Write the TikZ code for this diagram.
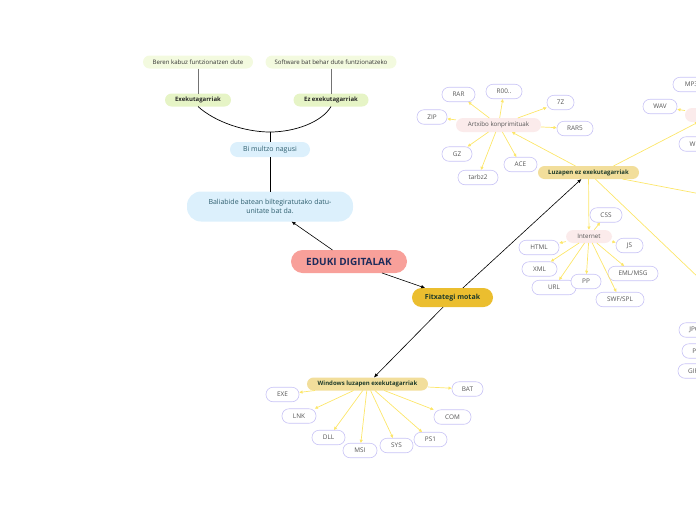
\documentclass[tikz,border=0pt]{standalone}
\usepackage{fontspec}
\setmainfont{Open Sans}
\usetikzlibrary{arrows.meta}
\definecolor{leafbd}{HTML}{C9C4F6}
\definecolor{leaftxt}{HTML}{555555}
\definecolor{yline}{HTML}{FCE66A}
\definecolor{pinkfill}{HTML}{FBEBEB}
\definecolor{goldfill}{HTML}{F2DE9B}
\definecolor{fitxfill}{HTML}{EBBE2F}
\definecolor{edukifill}{HTML}{F8A09A}
\definecolor{bluefill}{HTML}{DCF0FC}
\definecolor{lgreenfill}{HTML}{F3FADF}
\definecolor{mgreenfill}{HTML}{E6F4C6}
\definecolor{darkgreen}{HTML}{1F3B2A}
\definecolor{navy}{HTML}{1D2B5B}
\definecolor{tealtxt}{HTML}{2F5F6F}
\begin{document}
\begin{tikzpicture}[x=1pt,y=-1pt,
  box/.style={inner sep=0pt, outer sep=0pt},
  leaf/.style={box, draw=leafbd, line width=0.6pt, fill=white, rounded corners=7pt,
    minimum height=14.5pt, font=\fontsize{6.4}{7}\selectfont, text=leaftxt},
  pinkbox/.style={box, fill=pinkfill, rounded corners=7pt, minimum height=14pt,
    font=\fontsize{6.2}{7}\selectfont, text=leaftxt},
  goldbox/.style={box, fill=goldfill, rounded corners=6.5pt, minimum height=13pt,
    font=\fontsize{6}{7}\selectfont\bfseries, text=darkgreen},
  lgreen/.style={box, fill=lgreenfill, rounded corners=6.5pt, minimum height=13pt,
    font=\fontsize{6.1}{7}\selectfont, text=black!80},
  mgreen/.style={box, fill=mgreenfill, rounded corners=6.5pt, minimum height=13pt,
    font=\fontsize{6}{7}\selectfont\bfseries, text=black!85},
  yarr/.style={draw=yline, line width=0.7pt, -{Latex[length=3.5pt,width=3.5pt]}},
  barr/.style={draw=black, line width=0.6pt, -{Latex[length=4pt,width=3.5pt]}},
  gline/.style={draw=black!55, line width=0.6pt},
  kline/.style={draw=black, line width=0.7pt}]
\useasboundingbox (0,0) rectangle (696,520);

% top-left group
\node[lgreen, minimum width=110pt] (beren) at (198,62) {Beren kabuz funtzionatzen dute};
\node[lgreen, minimum width=131pt] (soft) at (331,62) {Software bat behar dute funtzionatzeko};
\node[mgreen, minimum width=66pt] (exe) at (198,100) {Exekutagarriak};
\node[mgreen, minimum width=75pt] (ezexe) at (331,100) {Ez exekutagarriak};
\coordinate (j) at (270,132);
\node[box, fill=bluefill, rounded corners=7.5pt, minimum width=80pt, minimum height=15pt,
  font=\fontsize{7}{8}\selectfont, text=tealtxt] (bi) at (270,149.5) {Bi multzo nagusi};
\node[box, fill=bluefill, rounded corners=14pt, minimum width=166pt, minimum height=30pt,
  align=center, font=\fontsize{7}{9.5}\selectfont, text=tealtxt] (bal) at (270,206.5)
  {Baliabide batean biltegiratutako datu-\\unitate bat da.};

\draw[gline] (beren) -- (exe);
\draw[gline] (soft) -- (ezexe);
\draw[kline] (exe.south) .. controls (215,122) and (245,132) .. (j);
\draw[kline] (ezexe.south) .. controls (322,122) and (295,132) .. (j);
\draw[kline] (j) -- (bi.north);
\draw[kline] (bi.south) -- (bal.north);

% main nodes
\node[box, fill=edukifill, rounded corners=11.5pt, minimum width=116pt, minimum height=23pt,
  font=\fontsize{10}{11}\selectfont\bfseries, text=navy] (eduki) at (349,261.5) {EDUKI DIGITALAK};
\node[box, fill=fitxfill, rounded corners=9.5pt, minimum width=81pt, minimum height=19pt,
  font=\fontsize{7}{8}\selectfont\bfseries, text=darkgreen] (fitx) at (452.5,297.5) {Fitxategi motak};
\node[goldbox, minimum width=101pt] (luz) at (588.5,172.5) {Luzapen ez exekutagarriak};
\node[goldbox, minimum width=121pt] (win) at (367.5,384) {Windows luzapen exekutagarriak};

\draw[barr] (eduki) -- (bal);
\draw[barr] (eduki) -- (fitx);
\draw[barr] (fitx) -- (luz);
\draw[barr] (fitx) -- (win);

% archive group
\node[pinkbox, minimum width=85pt] (art) at (498.5,125) {Artxibo konprimituak};
\node[leaf, minimum width=33pt] (rar) at (458.5,94.5) {RAR};
\node[leaf, minimum width=36pt] (r00) at (504,91.5) {R00..};
\node[leaf, minimum width=27pt] (sz) at (560.5,102.5) {7Z};
\node[leaf, minimum width=30pt] (zip) at (432,117) {ZIP};
\node[leaf, minimum width=36pt] (rar5) at (575,128.5) {RAR5};
\node[leaf, minimum width=30pt] (gz) at (457,154) {GZ};
\node[leaf, minimum width=33pt] (ace) at (520.5,164.5) {ACE};
\node[leaf, minimum width=40pt] (tbz) at (478,177.5) {tarbz2};
\draw[yarr] ([xshift=-13pt]luz.north) -- (art);
\foreach \n in {rar,r00,sz,zip,rar5,gz,ace,tbz} \draw[yarr] (art) -- (\n);

% internet group
\node[pinkbox, minimum width=46pt, minimum height=13pt] (inet) at (589,236.5) {Internet};
\node[leaf, minimum width=32pt] (css) at (606,215) {CSS};
\node[leaf, minimum width=40pt] (html) at (539,247.5) {HTML};
\node[leaf, minimum width=35pt] (xml) at (539.5,269) {XML};
\node[leaf, minimum width=44pt] (url) at (554,287.5) {URL};
\node[leaf, minimum width=30pt] (pp) at (586,281.5) {PP};
\node[leaf, minimum width=27pt] (js) at (629.5,245.5) {JS};
\node[leaf, minimum width=50pt] (eml) at (633,273.5) {EML/MSG};
\node[leaf, minimum width=48pt] (swf) at (620,299.5) {SWF/SPL};
\draw[yarr] (luz) -- (inet);
\foreach \n in {css,html,xml,url,pp,js,eml,swf} \draw[yarr] (inet) -- (\n);

% windows group
\node[leaf, minimum width=33pt] (exef) at (282.5,394.5) {EXE};
\node[leaf, minimum width=31pt] (bat) at (467.5,389) {BAT};
\node[leaf, minimum width=34pt] (lnk) at (299,416) {LNK};
\node[leaf, minimum width=37pt] (com) at (452.5,417) {COM};
\node[leaf, minimum width=33pt] (dll) at (328.5,437.5) {DLL};
\node[leaf, minimum width=34pt] (msi) at (360,450.5) {MSI};
\node[leaf, minimum width=33pt] (sys) at (396.5,445.5) {SYS};
\node[leaf, minimum width=33pt] (ps1) at (430.5,439.5) {PS1};
\foreach \n in {exef,bat,lnk,com,dll,msi,sys,ps1} \draw[yarr] (win) -- (\n);

% groups cut by the right edge
\node[pinkbox, minimum width=54pt] (aud) at (712,115) {};
\node[leaf, minimum width=37pt] (mp3) at (691.5,84.5) {MP3};
\node[leaf, minimum width=34pt] (wav) at (660,106.5) {WAV};
\node[leaf, minimum width=37pt] (wma) at (697.5,144) {WMA};
\draw[yarr] ([xshift=25pt]luz.north) -- (aud);
\draw[yarr] (aud) -- (mp3);
\draw[yarr] (aud) -- (wav);
\draw[yarr] (aud) -- (wma);

\node[pinkbox, minimum width=54pt] (img) at (745,322) {};
\node[leaf, minimum width=31pt] (jpg) at (694.5,330) {JPG};
\node[leaf, minimum width=34pt] (png) at (699,351) {PNG};
\node[leaf, minimum width=30pt] (gif) at (693,371) {GIF};
\draw[yarr] (luz) -- (img);

\node[pinkbox, minimum width=54pt] (oth) at (800,213) {};
\draw[yarr] (luz) -- (oth);
\end{tikzpicture}
\end{document}
